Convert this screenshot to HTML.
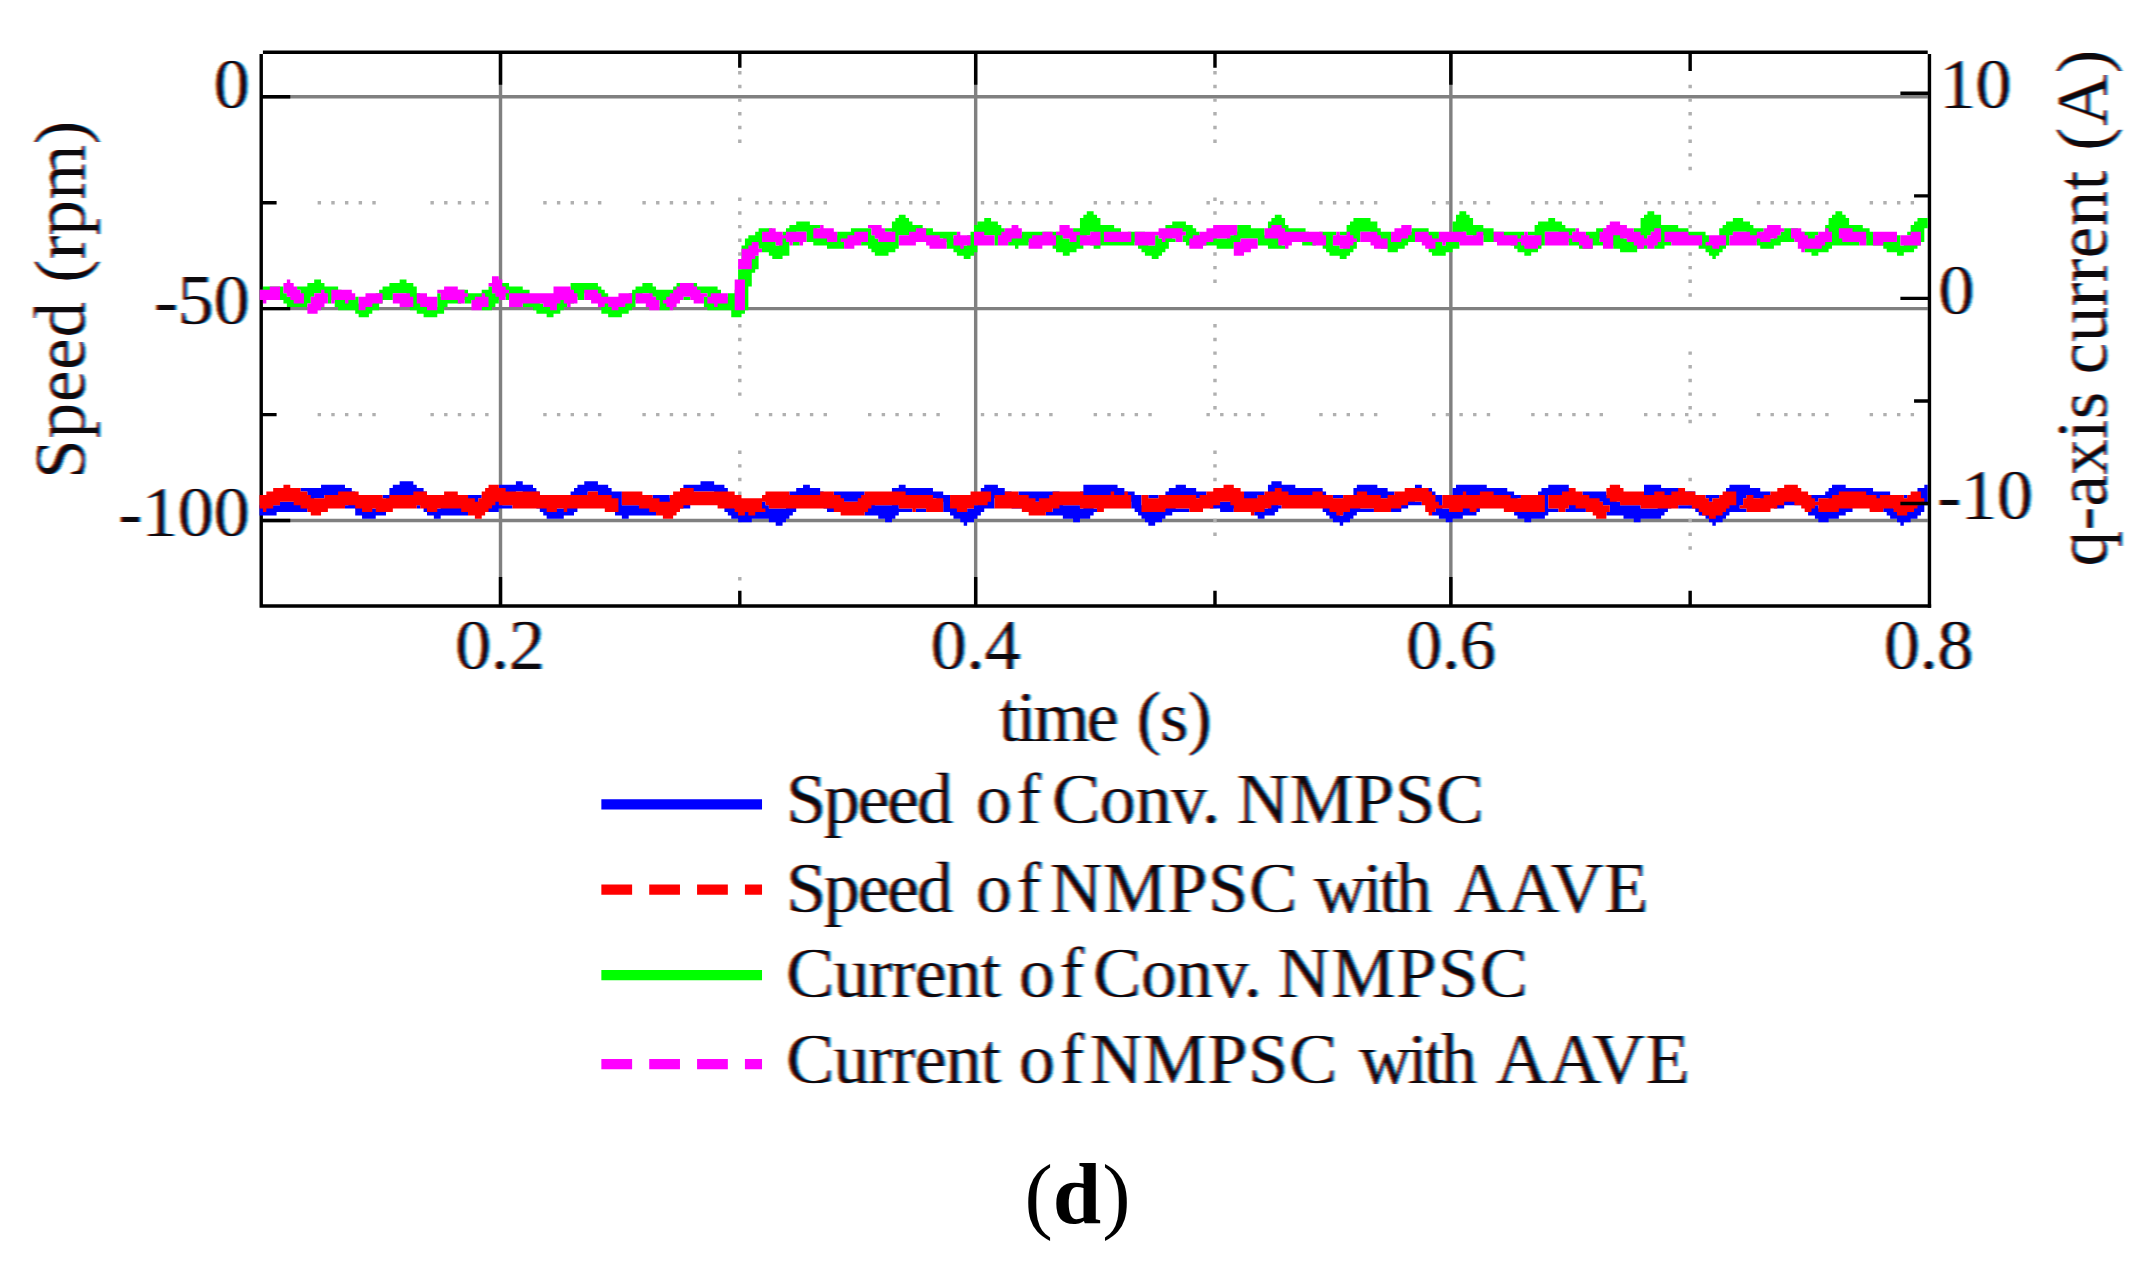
<!DOCTYPE html>
<html lang="en"><head><meta charset="utf-8"><title>Figure (d): speed and q-axis current</title>
<style>html,body{margin:0;padding:0;background:#fff}svg{display:block}text{white-space:pre}</style>
</head><body>
<svg width="2148" height="1272" viewBox="0 0 2148 1272">
<defs>
<filter id="ct" x="-15%" y="-15%" width="130%" height="130%" color-interpolation-filters="sRGB">
<feGaussianBlur in="SourceAlpha" stdDeviation="0.7"/>
<feComponentTransfer result="ta"><feFuncA type="linear" slope="1.7" intercept="-0.62"/></feComponentTransfer>
<feOffset in="ta" dx="1.5" result="ar"/><feFlood flood-color="#14b0e0"/><feComposite operator="in" in2="ar" result="lc"/>
<feOffset in="ta" dx="-1.5" result="ab"/><feFlood flood-color="#e0b014"/><feComposite operator="in" in2="ab" result="ly"/>
<feFlood flood-color="#b014b0"/><feComposite operator="in" in2="ta" result="lm"/>
<feBlend mode="multiply" in="lc" in2="lm" result="b1"/><feBlend mode="multiply" in="b1" in2="ly" result="b2"/>
<feGaussianBlur in="b2" stdDeviation="0.9 0.65"/>
</filter>
<filter id="ctv" x="-10%" y="-3%" width="120%" height="106%" color-interpolation-filters="sRGB">
<feGaussianBlur in="SourceAlpha" stdDeviation="0.7"/>
<feComponentTransfer result="ta"><feFuncA type="linear" slope="1.7" intercept="-0.62"/></feComponentTransfer>
<feOffset in="ta" dx="1.5" result="ar"/><feFlood flood-color="#14b0e0"/><feComposite operator="in" in2="ar" result="lc"/>
<feOffset in="ta" dx="-1.5" result="ab"/><feFlood flood-color="#e0b014"/><feComposite operator="in" in2="ab" result="ly"/>
<feFlood flood-color="#b014b0"/><feComposite operator="in" in2="ta" result="lm"/>
<feBlend mode="multiply" in="lc" in2="lm" result="b1"/><feBlend mode="multiply" in="b1" in2="ly" result="b2"/>
<feGaussianBlur in="b2" stdDeviation="0.9 0.65"/>
</filter>
</defs>
<rect width="2148" height="1272" fill="#fff"/>
<g id="plot">
<path d="M1449.14 54.02H1452.56V95.03H1449.14zM973.97 54.02H977.39V95.03H973.97zM498.8 54.02H502.22V95.03H498.8zM262.92 95.03H1927.73V98.45H262.92zM1449.14 98.45H1452.56V306.95H1449.14zM973.97 98.45H977.39V306.95H973.97zM498.8 98.45H502.22V306.95H498.8zM262.92 306.95H1927.73V310.37H262.92zM1449.14 310.37H1452.56V518.87H1449.14zM973.97 310.37H977.39V518.87H973.97zM498.8 310.37H502.22V518.87H498.8zM262.92 518.87H1927.73V522.28H262.92zM1449.14 522.28H1452.56V604.32H1449.14zM973.97 522.28H977.39V604.32H973.97zM498.8 522.28H502.22V604.32H498.8z" fill="#808080" />
<path d="M1213.27 71.11H1216.69V74.53H1213.27zM738.1 71.11H741.51V74.53H738.1zM1213.27 84.78H1216.69V88.2H1213.27zM1688.44 84.78H1691.86V88.2H1688.44zM738.1 84.78H741.51V88.2H738.1zM1213.27 98.45H1216.69V101.87H1213.27zM1688.44 98.45H1691.86V101.87H1688.44zM738.1 98.45H741.51V101.87H738.1zM1213.27 112.12H1216.69V115.54H1213.27zM1688.44 112.12H1691.86V115.54H1688.44zM738.1 112.12H741.51V115.54H738.1zM1213.27 125.8H1216.69V129.21H1213.27zM1688.44 125.8H1691.86V129.21H1688.44zM738.1 125.8H741.51V129.21H738.1zM1213.27 139.47H1216.69V142.89H1213.27zM1688.44 139.47H1691.86V142.89H1688.44zM738.1 139.47H741.51V142.89H738.1zM1688.44 153.14H1691.86V156.56H1688.44zM1688.44 166.81H1691.86V170.23H1688.44zM1213.27 197.57H1216.69V200.99H1213.27zM738.1 197.57H741.51V200.99H738.1zM1671.35 200.99H1674.76V204.41H1671.35zM556.92 200.99H560.33V204.41H556.92zM1797.83 200.99H1801.25V204.41H1797.83zM1093.62 200.99H1097.04V204.41H1093.62zM543.24 200.99H546.66V204.41H543.24zM669.73 200.99H673.14V204.41H669.73zM1910.64 200.99H1914.06V204.41H1910.64zM1206.43 200.99H1209.85V204.41H1206.43zM656.05 200.99H659.47V204.41H656.05zM782.54 200.99H785.96V204.41H782.54zM642.38 200.99H645.8V204.41H642.38zM1319.24 200.99H1322.66V204.41H1319.24zM768.86 200.99H772.28V204.41H768.86zM1599.56 200.99H1602.98V204.41H1599.56zM1712.37 200.99H1715.79V204.41H1712.37zM895.35 200.99H898.77V204.41H895.35zM755.19 200.99H758.61V204.41H755.19zM1432.05 200.99H1435.47V204.41H1432.05zM881.67 200.99H885.09V204.41H881.67zM1825.18 200.99H1828.6V204.41H1825.18zM1008.16 200.99H1011.58V204.41H1008.16zM457.78 200.99H461.2V204.41H457.78zM868 200.99H871.42V204.41H868zM1544.86 200.99H1548.28V204.41H1544.86zM994.48 200.99H997.9V204.41H994.48zM1531.19 200.99H1534.61V204.41H1531.19zM1107.29 200.99H1110.71V204.41H1107.29zM796.21 200.99H799.63V204.41H796.21zM1644 200.99H1647.42V204.41H1644zM372.32 200.99H375.73V204.41H372.32zM1220.1 200.99H1223.52V204.41H1220.1zM909.02 200.99H912.44V204.41H909.02zM358.64 200.99H362.06V204.41H358.64zM485.13 200.99H488.55V204.41H485.13zM1332.91 200.99H1336.33V204.41H1332.91zM1021.83 200.99H1025.25V204.41H1021.83zM471.45 200.99H474.87V204.41H471.45zM597.94 200.99H601.36V204.41H597.94zM1445.73 200.99H1449.14V204.41H1445.73zM1558.54 200.99H1561.95V204.41H1558.54zM1134.64 200.99H1138.06V204.41H1134.64zM584.26 200.99H587.68V204.41H584.26zM710.75 200.99H714.17V204.41H710.75zM1120.97 200.99H1124.39V204.41H1120.97zM570.59 200.99H574.01V204.41H570.59zM1247.45 200.99H1250.87V204.41H1247.45zM697.07 200.99H700.49V204.41H697.07zM823.56 200.99H826.98V204.41H823.56zM1233.78 200.99H1237.2V204.41H1233.78zM683.4 200.99H686.82V204.41H683.4zM1360.26 200.99H1363.68V204.41H1360.26zM809.88 200.99H813.3V204.41H809.88zM1486.75 200.99H1490.17V204.41H1486.75zM936.37 200.99H939.79V204.41H936.37zM1346.59 200.99H1350.01V204.41H1346.59zM1657.67 200.99H1661.09V204.41H1657.67zM1473.07 200.99H1476.49V204.41H1473.07zM922.7 200.99H926.11V204.41H922.7zM1049.18 200.99H1052.6V204.41H1049.18zM1459.4 200.99H1462.82V204.41H1459.4zM1770.48 200.99H1773.9V204.41H1770.48zM1035.51 200.99H1038.92V204.41H1035.51zM1756.81 200.99H1760.23V204.41H1756.81zM331.29 200.99H334.71V204.41H331.29zM1883.29 200.99H1886.71V204.41H1883.29zM317.62 200.99H321.04V204.41H317.62zM1148.32 200.99H1151.73V204.41H1148.32zM1869.62 200.99H1873.04V204.41H1869.62zM430.43 200.99H433.85V204.41H430.43zM1261.13 200.99H1264.55V204.41H1261.13zM1373.94 200.99H1377.36V204.41H1373.94zM1784.16 200.99H1787.58V204.41H1784.16zM1896.97 200.99H1900.39V204.41H1896.97zM344.97 200.99H348.39V204.41H344.97zM1585.88 200.99H1589.3V204.41H1585.88zM1572.21 200.99H1575.63V204.41H1572.21zM1698.69 200.99H1702.11V204.41H1698.69zM444.1 200.99H447.52V204.41H444.1zM1685.02 200.99H1688.44V204.41H1685.02zM980.81 200.99H984.23V204.41H980.81zM1811.5 200.99H1814.92V204.41H1811.5zM1213.27 211.25H1216.69V214.66H1213.27zM1688.44 211.25H1691.86V214.66H1688.44zM738.1 211.25H741.51V214.66H738.1zM1213.27 224.92H1216.69V228.34H1213.27zM1688.44 224.92H1691.86V228.34H1688.44zM738.1 224.92H741.51V228.34H738.1zM1213.27 238.59H1216.69V242.01H1213.27zM1688.44 238.59H1691.86V242.01H1688.44zM738.1 238.59H741.51V242.01H738.1zM1213.27 252.26H1216.69V255.68H1213.27zM1688.44 252.26H1691.86V255.68H1688.44zM738.1 252.26H741.51V255.68H738.1zM1213.27 265.93H1216.69V269.35H1213.27zM1688.44 265.93H1691.86V269.35H1688.44zM738.1 265.93H741.51V269.35H738.1zM1213.27 279.61H1216.69V283.02H1213.27zM1688.44 279.61H1691.86V283.02H1688.44zM738.1 279.61H741.51V283.02H738.1zM1688.44 293.28H1691.86V296.7H1688.44zM1213.27 324.04H1216.69V327.46H1213.27zM738.1 324.04H741.51V327.46H738.1zM1213.27 337.71H1216.69V341.13H1213.27zM738.1 337.71H741.51V341.13H738.1zM1213.27 351.38H1216.69V354.8H1213.27zM1688.44 351.38H1691.86V354.8H1688.44zM738.1 351.38H741.51V354.8H738.1zM1213.27 365.06H1216.69V368.47H1213.27zM1688.44 365.06H1691.86V368.47H1688.44zM738.1 365.06H741.51V368.47H738.1zM1213.27 378.73H1216.69V382.15H1213.27zM1688.44 378.73H1691.86V382.15H1688.44zM738.1 378.73H741.51V382.15H738.1zM1213.27 392.4H1216.69V395.82H1213.27zM1688.44 392.4H1691.86V395.82H1688.44zM738.1 392.4H741.51V395.82H738.1zM1688.44 406.07H1691.86V409.49H1688.44zM1213.27 406.07H1216.69V409.49H1213.27zM1671.35 412.91H1674.76V416.33H1671.35zM556.92 412.91H560.33V416.33H556.92zM1797.83 412.91H1801.25V416.33H1797.83zM1093.62 412.91H1097.04V416.33H1093.62zM543.24 412.91H546.66V416.33H543.24zM669.73 412.91H673.14V416.33H669.73zM1910.64 412.91H1914.06V416.33H1910.64zM1206.43 412.91H1209.85V416.33H1206.43zM656.05 412.91H659.47V416.33H656.05zM782.54 412.91H785.96V416.33H782.54zM642.38 412.91H645.8V416.33H642.38zM1319.24 412.91H1322.66V416.33H1319.24zM768.86 412.91H772.28V416.33H768.86zM1599.56 412.91H1602.98V416.33H1599.56zM1712.37 412.91H1715.79V416.33H1712.37zM895.35 412.91H898.77V416.33H895.35zM755.19 412.91H758.61V416.33H755.19zM1432.05 412.91H1435.47V416.33H1432.05zM881.67 412.91H885.09V416.33H881.67zM1825.18 412.91H1828.6V416.33H1825.18zM1008.16 412.91H1011.58V416.33H1008.16zM457.78 412.91H461.2V416.33H457.78zM868 412.91H871.42V416.33H868zM1544.86 412.91H1548.28V416.33H1544.86zM994.48 412.91H997.9V416.33H994.48zM1531.19 412.91H1534.61V416.33H1531.19zM1107.29 412.91H1110.71V416.33H1107.29zM796.21 412.91H799.63V416.33H796.21zM1644 412.91H1647.42V416.33H1644zM372.32 412.91H375.73V416.33H372.32zM1220.1 412.91H1223.52V416.33H1220.1zM909.02 412.91H912.44V416.33H909.02zM358.64 412.91H362.06V416.33H358.64zM485.13 412.91H488.55V416.33H485.13zM1332.91 412.91H1336.33V416.33H1332.91zM1021.83 412.91H1025.25V416.33H1021.83zM471.45 412.91H474.87V416.33H471.45zM597.94 412.91H601.36V416.33H597.94zM1445.73 412.91H1449.14V416.33H1445.73zM1558.54 412.91H1561.95V416.33H1558.54zM1134.64 412.91H1138.06V416.33H1134.64zM584.26 412.91H587.68V416.33H584.26zM710.75 412.91H714.17V416.33H710.75zM1120.97 412.91H1124.39V416.33H1120.97zM570.59 412.91H574.01V416.33H570.59zM1247.45 412.91H1250.87V416.33H1247.45zM697.07 412.91H700.49V416.33H697.07zM823.56 412.91H826.98V416.33H823.56zM1233.78 412.91H1237.2V416.33H1233.78zM683.4 412.91H686.82V416.33H683.4zM1360.26 412.91H1363.68V416.33H1360.26zM809.88 412.91H813.3V416.33H809.88zM1486.75 412.91H1490.17V416.33H1486.75zM936.37 412.91H939.79V416.33H936.37zM1346.59 412.91H1350.01V416.33H1346.59zM1657.67 412.91H1661.09V416.33H1657.67zM1473.07 412.91H1476.49V416.33H1473.07zM922.7 412.91H926.11V416.33H922.7zM1049.18 412.91H1052.6V416.33H1049.18zM1459.4 412.91H1462.82V416.33H1459.4zM1770.48 412.91H1773.9V416.33H1770.48zM1035.51 412.91H1038.92V416.33H1035.51zM1756.81 412.91H1760.23V416.33H1756.81zM331.29 412.91H334.71V416.33H331.29zM1883.29 412.91H1886.71V416.33H1883.29zM317.62 412.91H321.04V416.33H317.62zM1148.32 412.91H1151.73V416.33H1148.32zM1869.62 412.91H1873.04V416.33H1869.62zM430.43 412.91H433.85V416.33H430.43zM1261.13 412.91H1264.55V416.33H1261.13zM1373.94 412.91H1377.36V416.33H1373.94zM1784.16 412.91H1787.58V416.33H1784.16zM1896.97 412.91H1900.39V416.33H1896.97zM344.97 412.91H348.39V416.33H344.97zM1585.88 412.91H1589.3V416.33H1585.88zM1572.21 412.91H1575.63V416.33H1572.21zM1698.69 412.91H1702.11V416.33H1698.69zM444.1 412.91H447.52V416.33H444.1zM1685.02 412.91H1688.44V416.33H1685.02zM980.81 412.91H984.23V416.33H980.81zM1811.5 412.91H1814.92V416.33H1811.5zM1688.44 419.74H1691.86V423.16H1688.44zM1213.27 450.51H1216.69V453.92H1213.27zM738.1 450.51H741.51V453.92H738.1zM1213.27 464.18H1216.69V467.6H1213.27zM738.1 464.18H741.51V467.6H738.1zM1213.27 477.85H1216.69V481.27H1213.27zM1688.44 477.85H1691.86V481.27H1688.44zM738.1 477.85H741.51V481.27H738.1zM1213.27 491.52H1216.69V494.94H1213.27zM1688.44 491.52H1691.86V494.94H1688.44zM738.1 491.52H741.51V494.94H738.1zM1213.27 505.19H1216.69V508.61H1213.27zM1688.44 505.19H1691.86V508.61H1688.44zM738.1 505.19H741.51V508.61H738.1zM1213.27 518.87H1216.69V522.28H1213.27zM1688.44 518.87H1691.86V522.28H1688.44zM738.1 518.87H741.51V522.28H738.1zM1688.44 532.54H1691.86V535.96H1688.44zM1213.27 532.54H1216.69V535.96H1213.27zM1688.44 546.21H1691.86V549.63H1688.44zM738.1 576.97H741.51V580.39H738.1z" fill="#b0b0b0" />
<path d="M262.92 50.6H1927.73V54.02H262.92zM1213.27 54.02H1216.69V67.69H1213.27zM738.1 54.02H741.51V67.69H738.1zM1688.44 54.02H1691.86V71.11H1688.44zM1449.14 54.02H1452.56V84.78H1449.14zM498.8 54.02H502.22V84.78H498.8zM973.97 54.02H977.39V84.78H973.97zM259.51 54.02H262.92V95.03H259.51zM259.51 95.03H290.27V98.45H259.51zM259.51 98.45H262.92V200.99H259.51zM259.51 200.99H276.6V204.41H259.51zM259.51 204.41H262.92V306.95H259.51zM259.51 306.95H290.27V310.37H259.51zM259.51 310.37H262.92V412.91H259.51zM259.51 412.91H276.6V416.33H259.51zM259.51 416.33H262.92V518.87H259.51zM259.51 518.87H290.27V522.28H259.51zM259.51 522.28H262.92V604.32H259.51zM1449.14 576.97H1452.56V604.32H1449.14zM973.97 576.97H977.39V604.32H973.97zM498.8 576.97H502.22V604.32H498.8zM1688.44 590.64H1691.86V604.32H1688.44zM1213.27 590.64H1216.69V604.32H1213.27zM738.1 590.64H741.51V604.32H738.1zM259.51 604.32H1931.15V607.73H259.51z" fill="#000" />
<path d="M1271.38 481.27H1281.64V484.69H1271.38zM399.66 481.27H413.34V484.69H399.66zM515.89 481.27H522.73V484.69H515.89zM700.49 481.27H714.17V484.69H700.49zM584.26 481.27H597.94V484.69H584.26zM1729.46 484.69H1749.97V488.1H1729.46zM1267.96 484.69H1295.31V488.1H1267.96zM1832.02 484.69H1845.69V488.1H1832.02zM1924.32 484.69H1927.73V488.1H1924.32zM803.05 484.69H809.88V488.1H803.05zM984.23 484.69H997.9V488.1H984.23zM683.4 484.69H724.42V488.1H683.4zM498.8 484.69H532.99V488.1H498.8zM1414.96 484.69H1421.8V488.1H1414.96zM1356.84 484.69H1377.36V488.1H1356.84zM898.77 484.69H905.6V488.1H898.77zM1548.28 484.69H1568.79V488.1H1548.28zM577.43 484.69H608.19V488.1H577.43zM392.83 484.69H416.76V488.1H392.83zM1083.36 484.69H1117.55V488.1H1083.36zM1175.66 484.69H1185.92V488.1H1175.66zM1455.98 484.69H1486.75V488.1H1455.98zM1644 484.69H1661.09V488.1H1644zM321.04 484.69H344.97V488.1H321.04zM683.4 488.1H727.84V491.52H683.4zM300.53 488.1H351.81V491.52H300.53zM1452.56 488.1H1507.26V491.52H1452.56zM1541.44 488.1H1572.21V491.52H1541.44zM1828.6 488.1H1873.04V491.52H1828.6zM796.21 488.1H820.14V491.52H796.21zM389.41 488.1H423.59V491.52H389.41zM495.38 488.1H536.4V491.52H495.38zM1267.96 488.1H1322.66V491.52H1267.96zM1726.04 488.1H1760.23V491.52H1726.04zM1644 488.1H1685.02V491.52H1644zM1168.83 488.1H1196.17V491.52H1168.83zM891.93 488.1H932.95V491.52H891.93zM574.01 488.1H611.61V491.52H574.01zM1353.43 488.1H1387.61V491.52H1353.43zM1411.54 488.1H1432.05V491.52H1411.54zM1083.36 488.1H1124.39V491.52H1083.36zM980.81 488.1H1004.74V491.52H980.81zM1353.43 491.52H1394.45V494.94H1353.43zM1244.03 491.52H1264.55V494.94H1244.03zM1267.96 491.52H1326.08V494.94H1267.96zM1165.41 491.52H1206.43V494.94H1165.41zM1582.47 491.52H1606.39V494.94H1582.47zM980.81 491.52H1011.58V494.94H980.81zM1079.95 491.52H1134.64V494.94H1079.95zM683.4 491.52H693.66V494.94H683.4zM495.38 491.52H515.89V494.94H495.38zM1452.56 491.52H1514.1V494.94H1452.56zM570.59 491.52H587.68V494.94H570.59zM522.73 491.52H539.82V494.94H522.73zM1538.03 491.52H1572.21V494.94H1538.03zM1726.04 491.52H1770.48V494.94H1726.04zM1644 491.52H1695.28V494.94H1644zM597.94 491.52H621.87V494.94H597.94zM789.37 491.52H823.56V494.94H789.37zM891.93 491.52H943.21V494.94H891.93zM1018.41 491.52H1059.43V494.94H1018.41zM307.36 491.52H355.22V494.94H307.36zM1825.18 491.52H1890.13V494.94H1825.18zM1408.12 491.52H1435.47V494.94H1408.12zM833.81 491.52H864.58V494.94H833.81zM389.41 491.52H427.01V494.94H389.41zM714.17 491.52H727.84V494.94H714.17zM1561.95 494.94H1575.63V498.36H1561.95zM980.81 494.94H1014.99V498.36H980.81zM1097.04 494.94H1103.88V498.36H1097.04zM1185.92 494.94H1209.85V498.36H1185.92zM679.98 494.94H690.24V498.36H679.98zM570.59 494.94H580.85V498.36H570.59zM1705.53 494.94H1719.21V498.36H1705.53zM529.57 494.94H543.24V498.36H529.57zM905.6 494.94H950.04V498.36H905.6zM1021.83 494.94H1059.43V498.36H1021.83zM813.3 494.94H826.98V498.36H813.3zM1722.62 494.94H1746.55V498.36H1722.62zM468.03 494.94H481.71V498.36H468.03zM495.38 494.94H505.64V498.36H495.38zM344.97 494.94H358.64V498.36H344.97zM837.23 494.94H864.58V498.36H837.23zM1421.8 494.94H1442.31V498.36H1421.8zM1862.78 494.94H1893.55V498.36H1862.78zM1161.99 494.94H1175.66V498.36H1161.99zM1582.47 494.94H1613.23V498.36H1582.47zM789.37 494.94H803.05V498.36H789.37zM1117.55 494.94H1141.48V498.36H1117.55zM1903.8 494.94H1907.22V498.36H1903.8zM604.77 494.94H621.87V498.36H604.77zM721 494.94H731.26V498.36H721zM1237.2 494.94H1257.71V498.36H1237.2zM307.36 494.94H324.46V498.36H307.36zM1647.42 494.94H1698.69V498.36H1647.42zM1787.58 494.94H1838.85V498.36H1787.58zM1332.91 494.94H1343.17V498.36H1332.91zM1452.56 494.94H1520.93V498.36H1452.56zM652.63 494.94H669.73V498.36H652.63zM382.57 494.94H396.25V498.36H382.57zM1377.36 494.94H1394.45V498.36H1377.36zM1404.7 494.94H1418.38V498.36H1404.7zM416.76 494.94H430.43V498.36H416.76zM1281.64 494.94H1329.5V498.36H1281.64zM1749.97 494.94H1773.9V498.36H1749.97zM1148.32 494.94H1158.57V498.36H1148.32zM1079.95 494.94H1090.2V501.78H1079.95zM891.93 494.94H902.18V501.78H891.93zM1873.04 498.36H1893.55V501.78H1873.04zM1387.61 498.36H1397.87V501.78H1387.61zM649.22 498.36H690.24V501.78H649.22zM491.96 498.36H502.22V501.78H491.96zM303.95 498.36H314.2V501.78H303.95zM936.37 498.36H950.04V501.78H936.37zM905.6 498.36H919.28V501.78H905.6zM1230.36 498.36H1261.13V501.78H1230.36zM1760.23 498.36H1818.34V501.78H1760.23zM1452.56 498.36H1483.33V501.78H1452.56zM1650.84 498.36H1667.93V501.78H1650.84zM1708.95 498.36H1712.37V501.78H1708.95zM721 498.36H734.68V501.78H721zM1688.44 498.36H1698.69V501.78H1688.44zM1285.06 498.36H1288.47V501.78H1285.06zM816.72 498.36H830.4V501.78H816.72zM1428.63 498.36H1442.31V501.78H1428.63zM385.99 498.36H396.25V501.78H385.99zM1565.37 498.36H1575.63V501.78H1565.37zM420.18 498.36H430.43V501.78H420.18zM348.39 498.36H358.64V501.78H348.39zM833.81 498.36H868V501.78H833.81zM1199.59 498.36H1216.69V501.78H1199.59zM1001.32 498.36H1062.85V501.78H1001.32zM1401.29 498.36H1414.96V501.78H1401.29zM532.99 498.36H543.24V501.78H532.99zM1828.6 498.36H1845.69V501.78H1828.6zM1579.05 498.36H1616.65V501.78H1579.05zM1507.26 498.36H1517.51V501.78H1507.26zM1124.39 498.36H1141.48V501.78H1124.39zM1161.99 498.36H1172.25V501.78H1161.99zM980.81 498.36H994.48V501.78H980.81zM789.37 498.36H799.63V501.78H789.37zM464.62 498.36H478.29V501.78H464.62zM1917.48 488.1H1927.73V505.19H1917.48zM1353.43 494.94H1363.68V505.19H1353.43zM1267.96 494.94H1278.22V505.19H1267.96zM608.19 498.36H621.87V505.19H608.19zM1722.62 498.36H1743.13V505.19H1722.62zM1319.24 498.36H1329.5V505.19H1319.24zM567.17 498.36H577.43V505.19H567.17zM909.02 501.78H915.86V505.19H909.02zM423.59 501.78H430.43V505.19H423.59zM1008.16 501.78H1028.67V505.19H1008.16zM382.57 501.78H392.83V505.19H382.57zM461.2 501.78H502.22V505.19H461.2zM1565.37 501.78H1589.3V505.19H1565.37zM1602.98 501.78H1620.07V505.19H1602.98zM280.02 501.78H314.2V505.19H280.02zM532.99 501.78H546.66V505.19H532.99zM977.39 501.78H994.48V505.19H977.39zM1250.87 501.78H1261.13V505.19H1250.87zM758.61 501.78H765.44V505.19H758.61zM1203.01 501.78H1244.03V505.19H1203.01zM1691.86 501.78H1702.11V505.19H1691.86zM348.39 501.78H362.06V505.19H348.39zM645.8 501.78H690.24V505.19H645.8zM820.14 501.78H844.07V505.19H820.14zM1452.56 501.78H1479.91V505.19H1452.56zM1767.06 501.78H1814.92V505.19H1767.06zM1387.61 501.78H1421.8V505.19H1387.61zM1832.02 501.78H1849.11V505.19H1832.02zM857.74 501.78H874.84V505.19H857.74zM1131.22 501.78H1141.48V505.19H1131.22zM943.21 501.78H953.46V505.19H943.21zM1052.6 501.78H1062.85V505.19H1052.6zM891.93 501.78H898.77V505.19H891.93zM1538.03 494.94H1548.28V508.61H1538.03zM1432.05 501.78H1442.31V508.61H1432.05zM1165.41 501.78H1175.66V508.61H1165.41zM1510.68 501.78H1520.93V508.61H1510.68zM1657.67 501.78H1671.35V508.61H1657.67zM785.96 501.78H796.21V508.61H785.96zM1883.29 501.78H1893.55V508.61H1883.29zM1083.36 501.78H1093.62V508.61H1083.36zM724.42 501.78H734.68V508.61H724.42zM1808.09 505.19H1818.34V508.61H1808.09zM1322.66 505.19H1332.91V508.61H1322.66zM751.77 505.19H768.86V508.61H751.77zM1678.18 505.19H1705.53V508.61H1678.18zM1835.43 505.19H1852.53V508.61H1835.43zM1568.79 505.19H1585.88V508.61H1568.79zM1052.6 505.19H1079.95V508.61H1052.6zM259.51 505.19H310.78V508.61H259.51zM1455.98 505.19H1479.91V508.61H1455.98zM662.89 505.19H690.24V508.61H662.89zM1267.96 505.19H1281.64V508.61H1267.96zM563.75 505.19H577.43V508.61H563.75zM1609.81 505.19H1640.58V508.61H1609.81zM1131.22 505.19H1144.9V508.61H1131.22zM943.21 505.19H956.88V508.61H943.21zM611.61 505.19H656.05V508.61H611.61zM536.4 505.19H550.08V508.61H536.4zM823.56 505.19H840.65V508.61H823.56zM861.16 505.19H898.77V508.61H861.16zM440.69 505.19H512.48V508.61H440.69zM423.59 505.19H433.85V508.61H423.59zM1914.06 505.19H1924.32V508.61H1914.06zM973.97 505.19H994.48V508.61H973.97zM1722.62 505.19H1739.72V508.61H1722.62zM1773.9 505.19H1784.16V508.61H1773.9zM1254.29 505.19H1264.55V508.61H1254.29zM344.97 505.19H365.48V508.61H344.97zM1391.03 505.19H1408.12V508.61H1391.03zM1350.01 505.19H1360.26V508.61H1350.01zM416.76 505.19H420.18V508.61H416.76zM1209.85 505.19H1240.62V508.61H1209.85zM1011.58 505.19H1025.25V508.61H1011.58zM379.15 505.19H389.41V508.61H379.15zM915.86 508.61H926.11V512.03H915.86zM1695.28 508.61H1712.37V512.03H1695.28zM355.22 508.61H389.41V512.03H355.22zM1220.1 508.61H1233.78V512.03H1220.1zM943.21 508.61H960.3V512.03H943.21zM478.29 508.61H498.8V512.03H478.29zM1910.64 508.61H1924.32V512.03H1910.64zM1534.61 508.61H1558.54V512.03H1534.61zM1254.29 508.61H1278.22V512.03H1254.29zM1391.03 508.61H1401.29V512.03H1391.03zM423.59 508.61H468.03V512.03H423.59zM1832.02 508.61H1852.53V512.03H1832.02zM826.98 508.61H837.23V512.03H826.98zM1565.37 508.61H1585.88V512.03H1565.37zM724.42 508.61H738.1V512.03H724.42zM1158.57 508.61H1189.34V512.03H1158.57zM1883.29 508.61H1896.97V512.03H1883.29zM1719.21 508.61H1746.55V512.03H1719.21zM539.82 508.61H577.43V512.03H539.82zM1052.6 508.61H1097.04V512.03H1052.6zM1808.09 508.61H1821.76V512.03H1808.09zM259.51 508.61H307.36V512.03H259.51zM967.14 508.61H984.23V512.03H967.14zM1452.56 508.61H1479.91V512.03H1452.56zM1322.66 508.61H1336.33V512.03H1322.66zM1134.64 508.61H1148.32V512.03H1134.64zM748.35 508.61H796.21V512.03H748.35zM868 508.61H912.44V512.03H868zM1510.68 508.61H1524.35V512.03H1510.68zM1609.81 508.61H1667.93V512.03H1609.81zM1346.59 508.61H1373.94V512.03H1346.59zM611.61 508.61H652.63V512.03H611.61zM1435.47 508.61H1449.14V512.03H1435.47zM727.84 512.03H792.79V515.45H727.84zM1326.08 512.03H1339.75V515.45H1326.08zM1514.1 512.03H1548.28V515.45H1514.1zM1138.06 512.03H1172.25V515.45H1138.06zM615.03 512.03H656.05V515.45H615.03zM427.01 512.03H468.03V515.45H427.01zM1343.17 512.03H1356.84V515.45H1343.17zM1698.69 512.03H1729.46V515.45H1698.69zM950.04 512.03H980.81V515.45H950.04zM1808.09 512.03H1845.69V515.45H1808.09zM355.22 512.03H385.99V515.45H355.22zM543.24 512.03H574.01V515.45H543.24zM1606.39 512.03H1664.51V515.45H1606.39zM864.58 512.03H898.77V515.45H864.58zM259.51 512.03H276.6V515.45H259.51zM1886.71 512.03H1920.9V515.45H1886.71zM1432.05 512.03H1476.49V515.45H1432.05zM1045.76 512.03H1093.62V515.45H1045.76zM1254.29 512.03H1274.8V515.45H1254.29zM546.66 515.45H563.75V518.87H546.66zM878.25 515.45H895.35V518.87H878.25zM1438.89 515.45H1462.82V518.87H1438.89zM362.06 515.45H375.73V518.87H362.06zM433.85 515.45H440.69V518.87H433.85zM621.87 515.45H628.7V518.87H621.87zM953.46 515.45H977.39V518.87H953.46zM1141.48 515.45H1165.41V518.87H1141.48zM1062.85 515.45H1090.2V518.87H1062.85zM1257.71 515.45H1264.55V518.87H1257.71zM1329.5 515.45H1353.43V518.87H1329.5zM1517.51 515.45H1544.86V518.87H1517.51zM1705.53 515.45H1726.04V518.87H1705.53zM1890.13 515.45H1917.48V518.87H1890.13zM1814.92 515.45H1838.85V518.87H1814.92zM1623.49 515.45H1661.09V518.87H1623.49zM731.26 515.45H789.37V518.87H731.26zM1445.73 518.87H1452.56V522.28H1445.73zM1633.74 518.87H1640.58V522.28H1633.74zM1073.11 518.87H1079.95V522.28H1073.11zM885.09 518.87H891.93V522.28H885.09zM1332.91 518.87H1350.01V522.28H1332.91zM1896.97 518.87H1910.64V522.28H1896.97zM1818.34 518.87H1828.6V522.28H1818.34zM1708.95 518.87H1722.62V522.28H1708.95zM768.86 518.87H785.96V522.28H768.86zM960.3 518.87H973.97V522.28H960.3zM1144.9 518.87H1161.99V522.28H1144.9zM738.1 518.87H751.77V522.28H738.1zM1524.35 518.87H1531.19V522.28H1524.35zM1712.37 522.28H1715.79V525.7H1712.37zM1148.32 522.28H1155.15V525.7H1148.32zM775.7 522.28H782.54V525.7H775.7zM1339.75 522.28H1343.17V525.7H1339.75zM963.72 522.28H967.14V525.7H963.72zM1900.39 522.28H1903.8V525.7H1900.39zM601.36 799.14H762.03V809.4H601.36z" fill="#0000ff" />
<path d="M488.55 484.69H498.8V488.1H488.55zM1784.16 484.69H1797.83V488.1H1784.16zM1609.81 484.69H1620.07V488.1H1609.81zM283.44 484.69H290.27V488.1H283.44zM1223.52 484.69H1233.78V488.1H1223.52zM1678.18 488.1H1685.02V491.52H1678.18zM485.13 488.1H505.64V491.52H485.13zM273.18 488.1H300.53V491.52H273.18zM1777.32 488.1H1801.25V491.52H1777.32zM679.98 488.1H693.66V491.52H679.98zM1213.27 488.1H1240.62V491.52H1213.27zM1404.7 488.1H1428.63V491.52H1404.7zM1568.79 488.1H1575.63V491.52H1568.79zM1606.39 488.1H1623.49V491.52H1606.39zM1274.8 488.1H1281.64V491.52H1274.8zM1671.35 491.52H1695.28V494.94H1671.35zM1206.43 491.52H1244.03V494.94H1206.43zM1394.45 491.52H1432.05V494.94H1394.45zM1264.55 491.52H1288.47V494.94H1264.55zM1770.48 491.52H1808.09V494.94H1770.48zM1124.39 491.52H1127.81V494.94H1124.39zM1110.71 491.52H1114.13V494.94H1110.71zM1654.25 491.52H1664.51V494.94H1654.25zM587.68 491.52H597.94V494.94H587.68zM1722.62 491.52H1736.3V494.94H1722.62zM765.44 491.52H789.37V494.94H765.44zM1561.95 491.52H1582.47V494.94H1561.95zM338.13 491.52H358.64V494.94H338.13zM1838.85 491.52H1866.2V494.94H1838.85zM1356.84 491.52H1367.1V494.94H1356.84zM1004.74 491.52H1018.41V494.94H1004.74zM1312.4 491.52H1322.66V494.94H1312.4zM621.87 491.52H642.38V494.94H621.87zM1606.39 491.52H1644V494.94H1606.39zM1910.64 491.52H1920.9V494.94H1910.64zM673.14 491.52H734.68V494.94H673.14zM820.14 491.52H833.81V494.94H820.14zM1462.82 491.52H1466.24V494.94H1462.82zM970.55 491.52H991.07V494.94H970.55zM1479.91 491.52H1493.58V494.94H1479.91zM266.34 491.52H307.36V494.94H266.34zM413.34 491.52H427.01V494.94H413.34zM481.71 491.52H539.82V494.94H481.71zM444.1 491.52H457.78V494.94H444.1zM1052.6 491.52H1083.36V494.94H1052.6zM864.58 491.52H905.6V494.94H864.58zM389.41 494.94H468.03V498.36H389.41zM1907.22 494.94H1920.9V498.36H1907.22zM1832.02 494.94H1876.46V498.36H1832.02zM1442.31 494.94H1510.68V498.36H1442.31zM1879.88 494.94H1903.8V498.36H1879.88zM259.51 494.94H310.78V498.36H259.51zM1520.93 494.94H1544.86V498.36H1520.93zM1746.55 494.94H1753.39V498.36H1746.55zM1548.28 494.94H1589.3V498.36H1548.28zM621.87 494.94H652.63V498.36H621.87zM1387.61 494.94H1435.47V498.36H1387.61zM1606.39 494.94H1705.53V498.36H1606.39zM1763.65 494.94H1811.5V498.36H1763.65zM1719.21 494.94H1736.3V498.36H1719.21zM669.73 494.94H741.51V498.36H669.73zM861.16 494.94H932.95V498.36H861.16zM762.03 494.94H840.65V498.36H762.03zM1257.71 494.94H1332.91V498.36H1257.71zM1049.18 494.94H1131.22V498.36H1049.18zM1343.17 494.94H1380.77V498.36H1343.17zM324.46 494.94H382.57V498.36H324.46zM994.48 494.94H1028.67V498.36H994.48zM1141.48 494.94H1148.32V498.36H1141.48zM1158.57 494.94H1196.17V498.36H1158.57zM481.71 494.94H611.61V498.36H481.71zM1199.59 494.94H1244.03V498.36H1199.59zM950.04 494.94H991.07V501.78H950.04zM1743.13 498.36H1814.92V501.78H1743.13zM478.29 498.36H618.45V501.78H478.29zM1818.34 498.36H1924.32V501.78H1818.34zM669.73 498.36H844.07V501.78H669.73zM621.87 498.36H659.47V501.78H621.87zM857.74 498.36H943.21V501.78H857.74zM259.51 498.36H474.87V501.78H259.51zM1038.92 498.36H1131.22V501.78H1038.92zM1712.37 498.36H1736.3V501.78H1712.37zM1609.81 498.36H1708.95V501.78H1609.81zM1141.48 498.36H1435.47V501.78H1141.48zM1548.28 498.36H1599.56V501.78H1548.28zM994.48 498.36H1035.51V501.78H994.48zM1442.31 498.36H1544.86V505.19H1442.31zM259.51 501.78H280.02V505.19H259.51zM1141.48 501.78H1220.1V505.19H1141.48zM994.48 501.78H1131.22V505.19H994.48zM1421.8 501.78H1438.89V505.19H1421.8zM1743.13 501.78H1784.16V505.19H1743.13zM1794.41 501.78H1920.9V505.19H1794.41zM765.44 501.78H943.21V505.19H765.44zM1230.36 501.78H1408.12V505.19H1230.36zM1620.07 501.78H1736.3V505.19H1620.07zM1548.28 501.78H1602.98V505.19H1548.28zM293.69 501.78H495.38V505.19H293.69zM950.04 501.78H987.65V505.19H950.04zM498.8 501.78H618.45V505.19H498.8zM621.87 501.78H762.03V505.19H621.87zM768.86 505.19H871.42V508.61H768.86zM1691.86 505.19H1729.46V508.61H1691.86zM1739.72 505.19H1777.32V508.61H1739.72zM1801.25 505.19H1814.92V508.61H1801.25zM1818.34 505.19H1917.48V508.61H1818.34zM1425.21 505.19H1544.86V508.61H1425.21zM717.59 505.19H762.03V508.61H717.59zM512.48 505.19H618.45V508.61H512.48zM638.96 505.19H683.4V508.61H638.96zM1548.28 505.19H1568.79V508.61H1548.28zM355.22 505.19H416.76V508.61H355.22zM1079.95 505.19H1131.22V508.61H1079.95zM420.18 505.19H491.96V508.61H420.18zM1141.48 505.19H1213.27V508.61H1141.48zM1281.64 505.19H1401.29V508.61H1281.64zM300.53 505.19H344.97V508.61H300.53zM1233.78 505.19H1271.38V508.61H1233.78zM1640.58 505.19H1678.18V508.61H1640.58zM898.77 505.19H943.21V508.61H898.77zM259.51 505.19H273.18V508.61H259.51zM994.48 505.19H1059.43V508.61H994.48zM1575.63 505.19H1609.81V508.61H1575.63zM950.04 505.19H973.97V508.61H950.04zM604.77 508.61H618.45V512.03H604.77zM1097.04 508.61H1103.88V512.03H1097.04zM1804.67 508.61H1811.5V512.03H1804.67zM427.01 508.61H437.27V512.03H427.01zM262.92 508.61H266.34V512.03H262.92zM649.22 508.61H679.98V512.03H649.22zM926.11 508.61H943.21V512.03H926.11zM1189.34 508.61H1203.01V512.03H1189.34zM1141.48 508.61H1165.41V512.03H1141.48zM1558.54 508.61H1565.37V512.03H1558.54zM1233.78 508.61H1264.55V512.03H1233.78zM307.36 508.61H327.88V512.03H307.36zM563.75 508.61H567.17V512.03H563.75zM1698.69 508.61H1726.04V512.03H1698.69zM461.2 508.61H488.55V512.03H461.2zM1893.55 508.61H1914.06V512.03H1893.55zM1329.5 508.61H1350.01V512.03H1329.5zM833.81 508.61H868V512.03H833.81zM1425.21 508.61H1435.47V512.03H1425.21zM1585.88 508.61H1609.81V512.03H1585.88zM546.66 508.61H556.92V512.03H546.66zM734.68 508.61H765.44V512.03H734.68zM912.44 508.61H915.86V512.03H912.44zM1373.94 508.61H1391.03V512.03H1373.94zM1503.84 508.61H1544.86V512.03H1503.84zM1818.34 508.61H1838.85V512.03H1818.34zM1869.62 508.61H1883.29V512.03H1869.62zM1449.14 508.61H1462.82V512.03H1449.14zM1746.55 508.61H1770.48V512.03H1746.55zM956.88 508.61H967.14V512.03H956.88zM362.06 508.61H372.32V512.03H362.06zM1469.65 508.61H1476.49V512.03H1469.65zM1021.83 508.61H1052.6V512.03H1021.83zM375.73 508.61H392.83V512.03H375.73zM1592.72 512.03H1606.39V515.45H1592.72zM1028.67 512.03H1045.76V515.45H1028.67zM1428.63 512.03H1432.05V515.45H1428.63zM468.03 512.03H485.13V515.45H468.03zM1336.33 512.03H1343.17V515.45H1336.33zM310.78 512.03H321.04V515.45H310.78zM1250.87 512.03H1254.29V515.45H1250.87zM738.1 512.03H744.93V515.45H738.1zM840.65 512.03H864.58V515.45H840.65zM656.05 512.03H676.56V515.45H656.05zM1702.11 512.03H1722.62V515.45H1702.11zM1896.97 512.03H1907.22V515.45H1896.97zM748.35 512.03H755.19V515.45H748.35zM474.87 515.45H481.71V518.87H474.87zM662.89 515.45H673.14V518.87H662.89zM1596.14 515.45H1606.39V518.87H1596.14zM1708.95 515.45H1715.79V518.87H1708.95zM744.93 884.59H762.03V894.85H744.93zM649.22 884.59H679.98V894.85H649.22zM601.36 884.59H632.12V894.85H601.36zM697.07 884.59H727.84V894.85H697.07z" fill="#ff0000" />
<path d="M1927.73 54.02H1931.15V91.62H1927.73zM1900.39 91.62H1931.15V95.03H1900.39zM1927.73 95.03H1931.15V194.16H1927.73zM1914.06 194.16H1931.15V197.57H1914.06zM1927.73 197.57H1931.15V296.7H1927.73zM1900.39 296.7H1931.15V300.11H1900.39zM1927.73 300.11H1931.15V399.24H1927.73zM1914.06 399.24H1931.15V402.65H1914.06zM1927.73 402.65H1931.15V501.78H1927.73zM1900.39 501.78H1931.15V505.19H1900.39zM1927.73 505.19H1931.15V607.73H1927.73z" fill="#000" />
<path d="M1459.4 211.25H1466.24V214.66H1459.4zM1647.42 211.25H1654.25V214.66H1647.42zM1835.43 211.25H1842.27V214.66H1835.43zM1086.78 211.25H1093.62V214.66H1086.78zM1644 214.66H1661.09V218.08H1644zM1455.98 214.66H1469.65V218.08H1455.98zM1083.36 214.66H1097.04V218.08H1083.36zM1832.02 214.66H1845.69V218.08H1832.02zM898.77 214.66H905.6V218.08H898.77zM1274.8 214.66H1281.64V218.08H1274.8zM1455.98 218.08H1473.07V221.5H1455.98zM1271.38 218.08H1285.06V221.5H1271.38zM895.35 218.08H909.02V221.5H895.35zM1353.43 218.08H1370.52V221.5H1353.43zM1732.88 218.08H1743.13V221.5H1732.88zM1548.28 218.08H1555.12V221.5H1548.28zM984.23 218.08H991.07V221.5H984.23zM1917.48 218.08H1927.73V221.5H1917.48zM1079.95 218.08H1100.46V224.92H1079.95zM1640.58 218.08H1661.09V224.92H1640.58zM1828.6 218.08H1849.11V224.92H1828.6zM1267.96 221.5H1285.06V224.92H1267.96zM1726.04 221.5H1749.97V224.92H1726.04zM1538.03 221.5H1561.95V224.92H1538.03zM1172.25 221.5H1185.92V224.92H1172.25zM891.93 221.5H912.44V224.92H891.93zM1452.56 221.5H1473.07V224.92H1452.56zM977.39 221.5H997.9V224.92H977.39zM796.21 221.5H809.88V224.92H796.21zM1914.06 221.5H1927.73V224.92H1914.06zM1350.01 221.5H1377.36V224.92H1350.01zM1079.95 224.92H1114.13V228.34H1079.95zM789.37 224.92H820.14V228.34H789.37zM1346.59 224.92H1377.36V228.34H1346.59zM1640.58 224.92H1678.18V228.34H1640.58zM1237.2 224.92H1250.87V228.34H1237.2zM1452.56 224.92H1483.33V228.34H1452.56zM973.97 224.92H1001.32V228.34H973.97zM891.93 224.92H922.7V228.34H891.93zM1534.61 224.92H1565.37V228.34H1534.61zM1722.62 224.92H1753.39V228.34H1722.62zM1825.18 224.92H1862.78V228.34H1825.18zM1910.64 224.92H1927.73V228.34H1910.64zM1165.41 224.92H1192.76V228.34H1165.41zM1267.96 224.92H1288.47V228.34H1267.96zM850.91 228.34H871.42V231.75H850.91zM1237.2 228.34H1264.55V231.75H1237.2zM1411.54 228.34H1428.63V231.75H1411.54zM1267.96 228.34H1305.57V231.75H1267.96zM1165.41 228.34H1196.17V231.75H1165.41zM1784.16 228.34H1797.83V231.75H1784.16zM1346.59 228.34H1380.77V231.75H1346.59zM1910.64 228.34H1924.32V231.75H1910.64zM1452.56 228.34H1493.58V231.75H1452.56zM1596.14 228.34H1616.65V231.75H1596.14zM1073.11 228.34H1120.97V231.75H1073.11zM885.09 228.34H932.95V231.75H885.09zM1633.74 228.34H1688.44V231.75H1633.74zM1534.61 228.34H1575.63V231.75H1534.61zM758.61 228.34H772.28V231.75H758.61zM1825.18 228.34H1869.62V231.75H1825.18zM973.97 228.34H1004.74V231.75H973.97zM785.96 228.34H816.72V231.75H785.96zM1719.21 228.34H1763.65V231.75H1719.21zM1127.81 231.75H1144.9V235.17H1127.81zM1185.92 231.75H1199.59V235.17H1185.92zM970.55 231.75H1008.16V235.17H970.55zM1370.52 231.75H1391.03V235.17H1370.52zM1339.75 231.75H1360.26V235.17H1339.75zM1319.24 231.75H1336.33V235.17H1319.24zM755.19 231.75H772.28V235.17H755.19zM1633.74 231.75H1650.84V235.17H1633.74zM1654.25 231.75H1705.53V235.17H1654.25zM1585.88 231.75H1623.49V235.17H1585.88zM1233.78 231.75H1264.55V235.17H1233.78zM891.93 231.75H956.88V235.17H891.93zM782.54 231.75H796.21V235.17H782.54zM1719.21 231.75H1732.88V235.17H1719.21zM1825.18 231.75H1873.04V235.17H1825.18zM1073.11 231.75H1090.2V235.17H1073.11zM1527.77 231.75H1544.86V235.17H1527.77zM1466.24 231.75H1524.35V235.17H1466.24zM1558.54 231.75H1572.21V235.17H1558.54zM1780.74 231.75H1818.34V235.17H1780.74zM1267.96 231.75H1308.99V235.17H1267.96zM837.23 231.75H871.42V235.17H837.23zM1746.55 231.75H1760.23V235.17H1746.55zM1907.22 231.75H1924.32V235.17H1907.22zM1093.62 231.75H1120.97V235.17H1093.62zM806.47 231.75H820.14V235.17H806.47zM1404.7 231.75H1438.89V235.17H1404.7zM1021.83 231.75H1062.85V235.17H1021.83zM1452.56 231.75H1462.82V238.59H1452.56zM1161.99 231.75H1172.25V238.59H1161.99zM1561.95 235.17H1575.63V238.59H1561.95zM779.12 235.17H792.79V238.59H779.12zM748.35 235.17H772.28V238.59H748.35zM1825.18 235.17H1855.95V238.59H1825.18zM1155.15 235.17H1158.57V238.59H1155.15zM1862.78 235.17H1886.71V238.59H1862.78zM1674.76 235.17H1708.95V238.59H1674.76zM1298.73 235.17H1332.91V238.59H1298.73zM1473.07 235.17H1476.49V238.59H1473.07zM1910.64 235.17H1924.32V238.59H1910.64zM1401.29 235.17H1418.38V238.59H1401.29zM1226.94 235.17H1295.31V238.59H1226.94zM1749.97 235.17H1763.65V238.59H1749.97zM922.7 235.17H953.46V238.59H922.7zM994.48 235.17H1062.85V238.59H994.48zM1582.47 235.17H1623.49V238.59H1582.47zM1373.94 235.17H1391.03V238.59H1373.94zM1097.04 235.17H1148.32V238.59H1097.04zM1421.8 235.17H1438.89V238.59H1421.8zM1773.9 235.17H1814.92V238.59H1773.9zM1073.11 235.17H1086.78V238.59H1073.11zM1182.5 235.17H1216.69V238.59H1182.5zM806.47 235.17H830.4V238.59H806.47zM833.81 235.17H874.84V238.59H833.81zM1637.16 235.17H1647.42V242.01H1637.16zM1719.21 235.17H1729.46V242.01H1719.21zM1896.97 235.17H1900.39V242.01H1896.97zM1483.33 235.17H1524.35V242.01H1483.33zM888.51 235.17H898.77V242.01H888.51zM1534.61 235.17H1544.86V242.01H1534.61zM1350.01 235.17H1360.26V242.01H1350.01zM1654.25 235.17H1667.93V242.01H1654.25zM1001.32 238.59H1069.69V242.01H1001.32zM1449.14 238.59H1459.4V242.01H1449.14zM1801.25 238.59H1814.92V242.01H1801.25zM1073.11 238.59H1083.36V242.01H1073.11zM1093.62 238.59H1148.32V242.01H1093.62zM1565.37 238.59H1599.56V242.01H1565.37zM1397.87 238.59H1414.96V242.01H1397.87zM1425.21 238.59H1438.89V242.01H1425.21zM1866.2 238.59H1890.13V242.01H1866.2zM1825.18 238.59H1852.53V242.01H1825.18zM1155.15 238.59H1175.66V242.01H1155.15zM744.93 238.59H762.03V242.01H744.93zM943.21 238.59H956.88V242.01H943.21zM864.58 238.59H878.25V242.01H864.58zM1182.5 238.59H1240.62V242.01H1182.5zM765.44 238.59H775.7V242.01H765.44zM1691.86 238.59H1708.95V242.01H1691.86zM1753.39 238.59H1794.41V242.01H1753.39zM1302.15 238.59H1332.91V242.01H1302.15zM1907.22 238.59H1924.32V242.01H1907.22zM1609.81 238.59H1626.91V242.01H1609.81zM1380.77 238.59H1391.03V242.01H1380.77zM806.47 238.59H850.91V242.01H806.47zM967.14 235.17H977.39V245.43H967.14zM779.12 238.59H789.37V245.43H779.12zM1257.71 238.59H1281.64V245.43H1257.71zM994.48 238.59H997.9V245.43H994.48zM1531.19 242.01H1544.86V245.43H1531.19zM1090.2 242.01H1134.64V245.43H1090.2zM1322.66 242.01H1332.91V245.43H1322.66zM1008.16 242.01H1028.67V245.43H1008.16zM1155.15 242.01H1168.83V245.43H1155.15zM744.93 242.01H775.7V245.43H744.93zM1380.77 242.01H1408.12V245.43H1380.77zM1821.76 242.01H1859.36V245.43H1821.76zM1866.2 242.01H1900.39V245.43H1866.2zM1138.06 242.01H1148.32V245.43H1138.06zM1302.15 242.01H1315.82V245.43H1302.15zM1903.8 242.01H1920.9V245.43H1903.8zM1428.63 242.01H1442.31V245.43H1428.63zM1756.81 242.01H1780.74V245.43H1756.81zM1346.59 242.01H1356.84V245.43H1346.59zM1654.25 242.01H1671.35V245.43H1654.25zM1568.79 242.01H1602.98V245.43H1568.79zM1445.73 242.01H1459.4V245.43H1445.73zM792.79 242.01H799.63V245.43H792.79zM813.3 242.01H844.07V245.43H813.3zM946.62 242.01H960.3V245.43H946.62zM1185.92 242.01H1233.78V245.43H1185.92zM1715.79 242.01H1729.46V245.43H1715.79zM1804.67 242.01H1814.92V245.43H1804.67zM1510.68 242.01H1524.35V245.43H1510.68zM1609.81 242.01H1647.42V245.43H1609.81zM1698.69 242.01H1712.37V245.43H1698.69zM861.16 242.01H898.77V245.43H861.16zM1052.6 242.01H1083.36V248.84H1052.6zM1267.96 245.43H1285.06V248.84H1267.96zM946.62 245.43H977.39V248.84H946.62zM1579.05 245.43H1592.72V248.84H1579.05zM868 245.43H898.77V248.84H868zM1014.99 245.43H1018.41V248.84H1014.99zM1343.17 245.43H1356.84V248.84H1343.17zM758.61 245.43H789.37V248.84H758.61zM1804.67 245.43H1832.02V248.84H1804.67zM1654.25 245.43H1664.51V248.84H1654.25zM1613.23 245.43H1647.42V248.84H1613.23zM1322.66 245.43H1339.75V248.84H1322.66zM1138.06 245.43H1168.83V248.84H1138.06zM1698.69 245.43H1726.04V248.84H1698.69zM1760.23 245.43H1773.9V248.84H1760.23zM1380.77 245.43H1404.7V248.84H1380.77zM1216.69 245.43H1233.78V248.84H1216.69zM1883.29 245.43H1917.48V248.84H1883.29zM1514.1 245.43H1541.44V248.84H1514.1zM1093.62 245.43H1100.46V248.84H1093.62zM741.51 245.43H755.19V248.84H741.51zM1428.63 245.43H1459.4V248.84H1428.63zM826.98 245.43H844.07V248.84H826.98zM1326.08 248.84H1353.43V252.26H1326.08zM1428.63 248.84H1452.56V252.26H1428.63zM953.46 248.84H977.39V252.26H953.46zM1141.48 248.84H1165.41V252.26H1141.48zM1620.07 248.84H1637.16V252.26H1620.07zM1056.02 248.84H1076.53V252.26H1056.02zM1886.71 248.84H1914.06V252.26H1886.71zM1387.61 248.84H1397.87V252.26H1387.61zM1705.53 248.84H1722.62V252.26H1705.53zM1517.51 248.84H1538.03V252.26H1517.51zM871.42 248.84H895.35V252.26H871.42zM741.51 248.84H751.77V252.26H741.51zM762.03 248.84H789.37V252.26H762.03zM1804.67 248.84H1828.6V252.26H1804.67zM1896.97 252.26H1903.8V255.68H1896.97zM1062.85 252.26H1069.69V255.68H1062.85zM741.51 252.26H755.19V255.68H741.51zM1329.5 252.26H1350.01V255.68H1329.5zM768.86 252.26H789.37V255.68H768.86zM874.84 252.26H888.51V255.68H874.84zM956.88 252.26H973.97V255.68H956.88zM1811.5 252.26H1818.34V255.68H1811.5zM1432.05 252.26H1445.73V255.68H1432.05zM1708.95 252.26H1719.21V255.68H1708.95zM1144.9 252.26H1161.99V255.68H1144.9zM1524.35 252.26H1531.19V255.68H1524.35zM963.72 255.68H970.55V259.1H963.72zM1151.73 255.68H1158.57V259.1H1151.73zM1712.37 255.68H1715.79V259.1H1712.37zM772.28 255.68H782.54V259.1H772.28zM1339.75 255.68H1346.59V259.1H1339.75zM741.51 255.68H758.61V269.35H741.51zM738.1 269.35H755.19V272.77H738.1zM399.66 279.61H406.5V283.02H399.66zM314.2 279.61H321.04V283.02H314.2zM738.1 272.77H751.77V286.44H738.1zM642.38 283.02H652.63V286.44H642.38zM389.41 283.02H413.34V286.44H389.41zM570.59 283.02H597.94V286.44H570.59zM676.56 283.02H697.07V286.44H676.56zM498.8 283.02H509.06V286.44H498.8zM307.36 283.02H324.46V286.44H307.36zM738.1 286.44H748.35V289.86H738.1zM297.11 286.44H338.13V289.86H297.11zM673.14 286.44H717.59V289.86H673.14zM382.57 286.44H416.76V289.86H382.57zM498.8 286.44H522.73V289.86H498.8zM570.59 286.44H601.36V289.86H570.59zM635.54 286.44H656.05V289.86H635.54zM262.92 286.44H283.44V289.86H262.92zM488.55 286.44H491.96V289.86H488.55zM632.12 289.86H721V293.28H632.12zM495.38 289.86H529.57V293.28H495.38zM734.68 289.86H748.35V293.28H734.68zM300.53 289.86H341.55V293.28H300.53zM379.15 289.86H416.76V293.28H379.15zM567.17 289.86H604.77V293.28H567.17zM457.78 289.86H468.03V293.28H457.78zM481.71 289.86H491.96V293.28H481.71zM259.51 289.86H283.44V293.28H259.51zM450.94 293.28H529.57V296.7H450.94zM563.75 293.28H584.26V296.7H563.75zM727.84 293.28H748.35V296.7H727.84zM594.52 293.28H608.19V296.7H594.52zM437.27 293.28H440.69V296.7H437.27zM273.18 293.28H286.85V296.7H273.18zM406.5 293.28H420.18V296.7H406.5zM324.46 293.28H341.55V296.7H324.46zM628.7 293.28H642.38V296.7H628.7zM649.22 293.28H679.98V296.7H649.22zM697.07 293.28H700.49V296.7H697.07zM300.53 293.28H314.2V296.7H300.53zM707.33 293.28H721V296.7H707.33zM375.73 293.28H392.83V296.7H375.73zM259.51 293.28H269.76V296.7H259.51zM276.6 296.7H310.78V300.11H276.6zM703.91 296.7H717.59V300.11H703.91zM560.33 296.7H574.01V300.11H560.33zM577.43 296.7H584.26V300.11H577.43zM259.51 296.7H266.34V300.11H259.51zM372.32 296.7H392.83V300.11H372.32zM505.64 296.7H509.06V300.11H505.64zM327.88 296.7H341.55V300.11H327.88zM721 296.7H748.35V300.11H721zM683.4 296.7H690.24V300.11H683.4zM355.22 296.7H358.64V300.11H355.22zM522.73 296.7H532.99V300.11H522.73zM437.27 296.7H502.22V300.11H437.27zM656.05 296.7H676.56V300.11H656.05zM628.7 296.7H638.96V300.11H628.7zM597.94 296.7H608.19V303.53H597.94zM409.92 296.7H420.18V303.53H409.92zM522.73 300.11H539.82V303.53H522.73zM659.47 300.11H676.56V303.53H659.47zM327.88 300.11H331.29V303.53H327.88zM372.32 300.11H382.57V303.53H372.32zM437.27 300.11H461.2V303.53H437.27zM625.29 300.11H635.54V303.53H625.29zM464.62 300.11H471.45V303.53H464.62zM485.13 300.11H498.8V303.53H485.13zM334.71 300.11H358.64V303.53H334.71zM283.44 300.11H310.78V303.53H283.44zM556.92 300.11H574.01V303.53H556.92zM703.91 300.11H748.35V306.95H703.91zM485.13 303.53H495.38V306.95H485.13zM286.85 303.53H307.36V306.95H286.85zM621.87 303.53H635.54V306.95H621.87zM659.47 303.53H673.14V306.95H659.47zM409.92 303.53H423.59V306.95H409.92zM437.27 303.53H447.52V306.95H437.27zM601.36 303.53H611.61V306.95H601.36zM334.71 303.53H362.06V306.95H334.71zM553.5 303.53H567.17V306.95H553.5zM522.73 303.53H543.24V306.95H522.73zM365.48 303.53H379.15V306.95H365.48zM532.99 306.95H563.75V310.37H532.99zM707.33 306.95H748.35V310.37H707.33zM601.36 306.95H632.12V310.37H601.36zM659.47 306.95H669.73V310.37H659.47zM338.13 306.95H379.15V310.37H338.13zM409.92 306.95H444.1V310.37H409.92zM481.71 306.95H491.96V310.37H481.71zM601.36 310.37H628.7V313.79H601.36zM355.22 310.37H372.32V313.79H355.22zM416.76 310.37H444.1V313.79H416.76zM536.4 310.37H560.33V313.79H536.4zM731.26 310.37H744.93V313.79H731.26zM731.26 313.79H741.51V317.2H731.26zM358.64 313.79H368.9V317.2H358.64zM423.59 313.79H437.27V317.2H423.59zM546.66 313.79H553.5V317.2H546.66zM608.19 313.79H621.87V317.2H608.19zM601.36 970.04H762.03V980.3H601.36z" fill="#00ff00" />
<path d="M1609.81 221.5H1620.07V224.92H1609.81zM1401.29 224.92H1411.54V228.34H1401.29zM868 224.92H881.67V228.34H868zM1059.43 224.92H1069.69V228.34H1059.43zM1767.06 224.92H1780.74V228.34H1767.06zM1606.39 224.92H1626.91V228.34H1606.39zM1011.58 224.92H1018.41V228.34H1011.58zM820.14 224.92H823.56V228.34H820.14zM1213.27 224.92H1237.2V228.34H1213.27zM1271.38 224.92H1281.64V228.34H1271.38zM1158.57 228.34H1182.5V231.75H1158.57zM1654.25 228.34H1661.09V231.75H1654.25zM1825.18 228.34H1828.6V231.75H1825.18zM915.86 228.34H926.11V231.75H915.86zM1575.63 228.34H1579.05V231.75H1575.63zM871.42 228.34H885.09V231.75H871.42zM813.3 228.34H833.81V231.75H813.3zM1004.74 228.34H1021.83V231.75H1004.74zM1264.55 228.34H1285.06V231.75H1264.55zM1790.99 228.34H1801.25V231.75H1790.99zM1838.85 228.34H1852.53V231.75H1838.85zM1059.43 228.34H1073.11V231.75H1059.43zM768.86 228.34H775.7V231.75H768.86zM1206.43 228.34H1237.2V231.75H1206.43zM1602.98 228.34H1633.74V231.75H1602.98zM1394.45 228.34H1411.54V231.75H1394.45zM1763.65 228.34H1784.16V231.75H1763.65zM854.33 231.75H868V235.17H854.33zM1650.84 231.75H1661.09V235.17H1650.84zM909.02 231.75H926.11V235.17H909.02zM1134.64 231.75H1185.92V235.17H1134.64zM1476.49 231.75H1483.33V235.17H1476.49zM871.42 231.75H895.35V235.17H871.42zM1346.59 231.75H1350.01V235.17H1346.59zM1090.2 231.75H1100.46V235.17H1090.2zM1042.34 231.75H1052.6V235.17H1042.34zM762.03 231.75H782.54V235.17H762.03zM1818.34 231.75H1832.02V235.17H1818.34zM1391.03 231.75H1411.54V235.17H1391.03zM956.88 231.75H960.3V235.17H956.88zM1756.81 231.75H1780.74V235.17H1756.81zM1732.88 231.75H1749.97V235.17H1732.88zM1790.99 231.75H1804.67V235.17H1790.99zM1336.33 231.75H1339.75V235.17H1336.33zM1524.35 231.75H1527.77V235.17H1524.35zM1001.32 231.75H1021.83V235.17H1001.32zM1910.64 231.75H1920.9V235.17H1910.64zM1664.51 231.75H1688.44V235.17H1664.51zM1199.59 231.75H1237.2V235.17H1199.59zM1414.96 231.75H1428.63V235.17H1414.96zM1264.55 231.75H1322.66V235.17H1264.55zM1360.26 231.75H1377.36V235.17H1360.26zM973.97 231.75H984.23V235.17H973.97zM1572.21 231.75H1585.88V235.17H1572.21zM1056.02 231.75H1079.95V235.17H1056.02zM1599.56 231.75H1640.58V235.17H1599.56zM1544.86 231.75H1568.79V235.17H1544.86zM1493.58 231.75H1503.84V235.17H1493.58zM1438.89 231.75H1466.24V235.17H1438.89zM785.96 231.75H806.47V235.17H785.96zM813.3 231.75H837.23V238.59H813.3zM1838.85 231.75H1866.2V238.59H1838.85zM762.03 235.17H806.47V238.59H762.03zM997.9 235.17H1021.83V238.59H997.9zM1032.09 235.17H1056.02V238.59H1032.09zM1062.85 235.17H1076.53V238.59H1062.85zM1192.76 235.17H1230.36V238.59H1192.76zM898.77 235.17H939.79V238.59H898.77zM1790.99 235.17H1808.09V238.59H1790.99zM1158.57 235.17H1182.5V238.59H1158.57zM1438.89 235.17H1483.33V238.59H1438.89zM1647.42 235.17H1661.09V238.59H1647.42zM1729.46 235.17H1777.32V238.59H1729.46zM1414.96 235.17H1432.05V238.59H1414.96zM1264.55 235.17H1326.08V238.59H1264.55zM1360.26 235.17H1380.77V238.59H1360.26zM874.84 235.17H895.35V238.59H874.84zM1493.58 235.17H1517.51V238.59H1493.58zM1620.07 235.17H1644V238.59H1620.07zM1520.93 235.17H1541.44V238.59H1520.93zM1332.91 235.17H1353.43V238.59H1332.91zM1391.03 235.17H1408.12V238.59H1391.03zM847.49 235.17H868V238.59H847.49zM1814.92 235.17H1832.02V238.59H1814.92zM1544.86 235.17H1589.3V238.59H1544.86zM1103.88 231.75H1131.22V242.01H1103.88zM1873.04 231.75H1896.97V242.01H1873.04zM1708.95 235.17H1726.04V242.01H1708.95zM1664.51 235.17H1702.11V242.01H1664.51zM1599.56 235.17H1613.23V242.01H1599.56zM878.25 238.59H895.35V242.01H878.25zM1842.27 238.59H1866.2V242.01H1842.27zM997.9 238.59H1011.58V242.01H997.9zM1572.21 238.59H1592.72V242.01H1572.21zM1240.62 238.59H1257.71V242.01H1240.62zM1626.91 238.59H1661.09V242.01H1626.91zM1189.34 238.59H1213.27V242.01H1189.34zM1493.58 238.59H1541.44V242.01H1493.58zM1069.69 238.59H1076.53V242.01H1069.69zM762.03 238.59H782.54V242.01H762.03zM1332.91 238.59H1356.84V242.01H1332.91zM1391.03 238.59H1401.29V242.01H1391.03zM898.77 238.59H946.62V242.01H898.77zM826.98 238.59H837.23V242.01H826.98zM1161.99 238.59H1165.41V242.01H1161.99zM1414.96 238.59H1483.33V242.01H1414.96zM1794.41 238.59H1832.02V242.01H1794.41zM1278.22 238.59H1326.08V242.01H1278.22zM1360.26 238.59H1387.61V242.01H1360.26zM840.65 238.59H868V242.01H840.65zM1760.23 238.59H1770.48V242.01H1760.23zM785.96 238.59H806.47V242.01H785.96zM1175.66 238.59H1182.5V242.01H1175.66zM1900.39 235.17H1920.9V245.43H1900.39zM1134.64 235.17H1155.15V245.43H1134.64zM1079.95 235.17H1100.46V245.43H1079.95zM973.97 235.17H994.48V245.43H973.97zM953.46 235.17H970.55V245.43H953.46zM1729.46 238.59H1756.81V245.43H1729.46zM1028.67 238.59H1056.02V245.43H1028.67zM1544.86 238.59H1568.79V245.43H1544.86zM1873.04 242.01H1883.29V245.43H1873.04zM751.77 242.01H758.61V245.43H751.77zM1421.8 242.01H1435.47V245.43H1421.8zM1579.05 242.01H1592.72V245.43H1579.05zM1312.4 242.01H1326.08V245.43H1312.4zM1497 242.01H1517.51V245.43H1497zM1671.35 242.01H1702.11V245.43H1671.35zM1459.4 242.01H1483.33V245.43H1459.4zM1442.31 242.01H1445.73V245.43H1442.31zM997.9 242.01H1008.16V245.43H997.9zM898.77 242.01H915.86V245.43H898.77zM1370.52 242.01H1387.61V245.43H1370.52zM799.63 242.01H803.05V245.43H799.63zM1705.53 242.01H1726.04V245.43H1705.53zM775.7 242.01H782.54V245.43H775.7zM789.37 242.01H792.79V245.43H789.37zM1633.74 242.01H1657.67V245.43H1633.74zM1859.36 242.01H1866.2V245.43H1859.36zM1520.93 242.01H1541.44V245.43H1520.93zM1797.83 242.01H1825.18V245.43H1797.83zM1332.91 242.01H1353.43V245.43H1332.91zM926.11 242.01H946.62V245.43H926.11zM1189.34 242.01H1206.43V245.43H1189.34zM1278.22 242.01H1291.89V245.43H1278.22zM844.07 242.01H861.16V245.43H844.07zM1233.78 242.01H1257.71V248.84H1233.78zM1602.98 242.01H1613.23V248.84H1602.98zM1373.94 245.43H1387.61V248.84H1373.94zM1647.42 245.43H1654.25V248.84H1647.42zM1028.67 245.43H1042.34V248.84H1028.67zM1285.06 245.43H1288.47V248.84H1285.06zM1797.83 245.43H1821.76V248.84H1797.83zM748.35 245.43H758.61V248.84H748.35zM1524.35 245.43H1538.03V248.84H1524.35zM1425.21 245.43H1435.47V248.84H1425.21zM844.07 245.43H854.33V248.84H844.07zM960.3 245.43H963.72V248.84H960.3zM1339.75 245.43H1350.01V248.84H1339.75zM1582.47 245.43H1592.72V248.84H1582.47zM1637.16 245.43H1644V248.84H1637.16zM929.53 245.43H946.62V248.84H929.53zM1189.34 245.43H1203.01V248.84H1189.34zM1712.37 245.43H1719.21V248.84H1712.37zM741.51 248.84H762.03V252.26H741.51zM1801.25 248.84H1804.67V252.26H1801.25zM1233.78 248.84H1250.87V252.26H1233.78zM741.51 252.26H758.61V255.68H741.51zM1233.78 252.26H1244.03V255.68H1233.78zM741.51 255.68H755.19V259.1H741.51zM738.1 259.1H751.77V269.35H738.1zM491.96 276.19H498.8V279.61H491.96zM491.96 279.61H502.22V283.02H491.96zM286.85 279.61H290.27V283.02H286.85zM679.98 283.02H693.66V286.44H679.98zM488.55 283.02H502.22V286.44H488.55zM283.44 283.02H293.69V286.44H283.44zM283.44 286.44H297.11V289.86H283.44zM491.96 286.44H505.64V289.86H491.96zM444.1 286.44H457.78V289.86H444.1zM553.5 286.44H570.59V289.86H553.5zM676.56 286.44H697.07V289.86H676.56zM269.76 286.44H280.02V289.86H269.76zM283.44 289.86H300.53V293.28H283.44zM437.27 289.86H464.62V293.28H437.27zM491.96 289.86H509.06V293.28H491.96zM553.5 289.86H574.01V293.28H553.5zM331.29 289.86H351.81V293.28H331.29zM321.04 289.86H324.46V293.28H321.04zM673.14 289.86H700.49V293.28H673.14zM584.26 289.86H597.94V293.28H584.26zM618.45 293.28H632.12V296.7H618.45zM710.75 293.28H727.84V296.7H710.75zM314.2 293.28H327.88V296.7H314.2zM635.54 293.28H652.63V296.7H635.54zM495.38 293.28H505.64V296.7H495.38zM481.71 293.28H485.13V296.7H481.71zM365.48 293.28H382.57V296.7H365.48zM584.26 293.28H601.36V296.7H584.26zM286.85 293.28H303.95V296.7H286.85zM669.73 293.28H707.33V296.7H669.73zM392.83 293.28H409.92V296.7H392.83zM440.69 293.28H468.03V296.7H440.69zM416.76 293.28H427.01V296.7H416.76zM259.51 289.86H280.02V300.11H259.51zM331.29 293.28H355.22V300.11H331.29zM509.06 293.28H577.43V300.11H509.06zM498.8 296.7H505.64V300.11H498.8zM635.54 296.7H656.05V300.11H635.54zM440.69 296.7H464.62V300.11H440.69zM666.31 296.7H683.4V300.11H666.31zM690.24 296.7H703.91V300.11H690.24zM474.87 296.7H488.55V300.11H474.87zM290.27 296.7H303.95V300.11H290.27zM584.26 296.7H632.12V300.11H584.26zM707.33 296.7H727.84V303.53H707.33zM310.78 296.7H327.88V303.53H310.78zM358.64 296.7H382.57V303.53H358.64zM392.83 296.7H413.34V303.53H392.83zM416.76 296.7H437.27V303.53H416.76zM693.66 300.11H703.91V303.53H693.66zM509.06 300.11H560.33V303.53H509.06zM591.1 300.11H632.12V303.53H591.1zM662.89 300.11H679.98V303.53H662.89zM262.92 300.11H266.34V303.53H262.92zM457.78 300.11H464.62V303.53H457.78zM563.75 300.11H577.43V303.53H563.75zM344.97 300.11H348.39V303.53H344.97zM293.69 300.11H303.95V303.53H293.69zM635.54 300.11H659.47V303.53H635.54zM331.29 300.11H334.71V303.53H331.29zM471.45 300.11H488.55V306.95H471.45zM666.31 303.53H676.56V306.95H666.31zM714.17 303.53H717.59V306.95H714.17zM597.94 303.53H604.77V306.95H597.94zM567.17 303.53H570.59V306.95H567.17zM645.8 303.53H659.47V306.95H645.8zM358.64 303.53H372.32V306.95H358.64zM608.19 303.53H625.29V306.95H608.19zM543.24 303.53H556.92V306.95H543.24zM420.18 303.53H437.27V306.95H420.18zM509.06 303.53H522.73V306.95H509.06zM399.66 303.53H413.34V306.95H399.66zM307.36 303.53H324.46V306.95H307.36zM734.68 279.61H744.93V310.37H734.68zM358.64 306.95H365.48V310.37H358.64zM307.36 306.95H321.04V310.37H307.36zM611.61 306.95H618.45V310.37H611.61zM427.01 306.95H437.27V310.37H427.01zM471.45 306.95H481.71V310.37H471.45zM649.22 306.95H659.47V310.37H649.22zM550.08 306.95H556.92V310.37H550.08zM669.73 306.95H673.14V310.37H669.73zM307.36 310.37H317.62V313.79H307.36zM744.93 1058.91H762.03V1069.16H744.93zM649.22 1058.91H679.98V1069.16H649.22zM601.36 1058.91H632.12V1069.16H601.36zM697.07 1058.91H727.84V1069.16H697.07z" fill="#ff00ff" />
</g>
<g id="labels" font-family='"Liberation Serif", "Times New Roman", serif' fill="#000">
<text filter="url(#ct)" x="249.2" y="108.3" text-anchor="end" font-size="71.6">0</text>
<text filter="url(#ct)" x="249.2" y="324" text-anchor="end" font-size="71.6">-50</text>
<text filter="url(#ct)" x="249.2" y="535.8" text-anchor="end" font-size="71.6">-100</text>
<text filter="url(#ct)" x="1939.5" y="108.4" text-anchor="start" font-size="71.6">10</text>
<text filter="url(#ct)" x="1938.2" y="313.6" text-anchor="start" font-size="71.6">0</text>
<text filter="url(#ct)" x="1937" y="518.6" text-anchor="start" font-size="71.6">-10</text>
<text filter="url(#ct)" x="499.8" y="669.2" text-anchor="middle" font-size="71.6">0.2</text>
<text filter="url(#ct)" x="975.2" y="669.2" text-anchor="middle" font-size="71.6">0.4</text>
<text filter="url(#ct)" x="1450.8" y="669.2" text-anchor="middle" font-size="71.6">0.6</text>
<text filter="url(#ct)" x="1928.4" y="669.2" text-anchor="middle" font-size="71.6">0.8</text>
<text filter="url(#ct)" y="740.5" font-size="71.6" ><tspan x="998.8" letter-spacing="-2.56">time</tspan> <tspan x="1136.6" letter-spacing="-0.35">(s)</tspan></text>
<g filter="url(#ctv)"><text y="0" font-size="71.6" transform="translate(84 475.2) rotate(-90)"><tspan x="-3.8" letter-spacing="0.56">Speed</tspan> <tspan x="192.1" letter-spacing="-0.14">(rpm)</tspan></text></g>
<g filter="url(#ctv)"><text y="0" font-size="71.6" transform="translate(2106 564.6) rotate(-90)"><tspan x="-1.8" letter-spacing="-0.02">q-axis</tspan> <tspan x="190" letter-spacing="0.23">current</tspan> <tspan x="413.6" letter-spacing="1.03">(A)</tspan></text></g>
<text filter="url(#ct)" y="822.7" font-size="71.6" ><tspan x="786.1" letter-spacing="-2.12">Speed</tspan> <tspan x="975.8" letter-spacing="5.1">of</tspan> <tspan x="1052" letter-spacing="-0.2">Conv.</tspan> <tspan x="1236.8" letter-spacing="0.98">NMPSC</tspan></text>
<text filter="url(#ct)" y="911.8" font-size="71.6" ><tspan x="786.1" letter-spacing="-2.12">Speed</tspan> <tspan x="975.8" letter-spacing="5.1">of</tspan> <tspan x="1050.1" letter-spacing="0.95">NMPSC</tspan> <tspan x="1314.1" letter-spacing="-3.29">with</tspan> <tspan x="1453.9" letter-spacing="1.51">AAVE</tspan></text>
<text filter="url(#ct)" y="997.4" font-size="71.6" ><tspan x="786.1" letter-spacing="-0.72">Current</tspan> <tspan x="1018.8" letter-spacing="5.1">of</tspan> <tspan x="1093" letter-spacing="0.03">Conv.</tspan> <tspan x="1277.8" letter-spacing="1.73">NMPSC</tspan></text>
<text filter="url(#ct)" y="1082.6" font-size="71.6" ><tspan x="786.1" letter-spacing="-0.72">Current</tspan> <tspan x="1018.8" letter-spacing="5.1">of</tspan> <tspan x="1090.1" letter-spacing="0.95">NMPSC</tspan> <tspan x="1359" letter-spacing="-3.26">with</tspan> <tspan x="1495.8" letter-spacing="1.24">AAVE</tspan></text>
<text y="1223.4" font-size="85"><tspan x="1024.4">(</tspan><tspan x="1052.7" y="1223" font-size="87" font-weight="bold">d</tspan><tspan x="1102.2" y="1223.4">)</tspan></text>
</g>
</svg>
</body></html>
